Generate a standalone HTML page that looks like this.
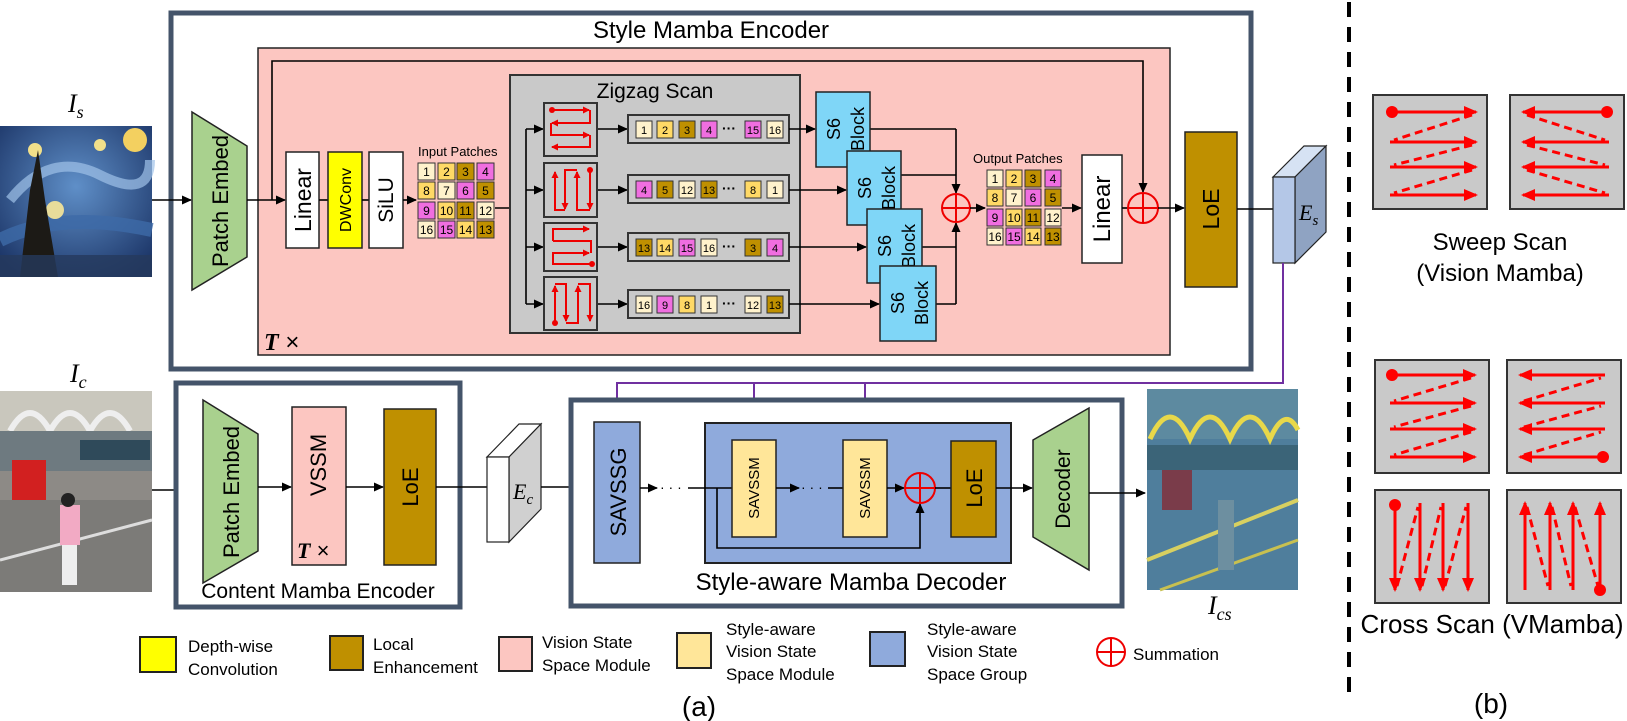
<!DOCTYPE html>
<html><head><meta charset="utf-8"><style>
html,body{margin:0;padding:0;background:#fff;}
svg{display:block;font-family:"Liberation Sans",sans-serif;}
.m{font-family:"Liberation Serif",serif;font-style:italic;}
</style></head><body>
<svg width="1627" height="721" viewBox="0 0 1627 721" xmlns="http://www.w3.org/2000/svg">
<defs>
<marker id="ab" markerUnits="userSpaceOnUse" markerWidth="10" markerHeight="9" refX="9" refY="4.5" orient="auto"><path d="M0,0 L10,4.5 L0,9z" fill="#000"/></marker>
<marker id="ap" markerUnits="userSpaceOnUse" markerWidth="10" markerHeight="9" refX="9" refY="4.5" orient="auto"><path d="M0,0 L10,4.5 L0,9z" fill="#7030a0"/></marker>
<marker id="ar" markerUnits="userSpaceOnUse" markerWidth="7" markerHeight="7" refX="6" refY="3.5" orient="auto"><path d="M0,0 L7,3.5 L0,7z" fill="#e00"/></marker>
<marker id="aR" markerUnits="userSpaceOnUse" markerWidth="14" markerHeight="12" refX="12" refY="6" orient="auto"><path d="M0,0 L14,6 L0,12z" fill="#f00"/></marker>
<radialGradient id="sn" cx="0.5" cy="0.4" r="0.7"><stop offset="0" stop-color="#5f8fc8"/><stop offset="1" stop-color="#1b3466"/></radialGradient>
</defs>
<rect width="1627" height="721" fill="#fff"/>

<!-- ============ Style Mamba Encoder ============ -->
<rect x="171" y="13" width="1080" height="356" fill="#fff" stroke="#44546a" stroke-width="5"/>
<text x="711" y="38" font-size="24" text-anchor="middle">Style Mamba Encoder</text>
<rect x="258" y="48" width="912" height="307" fill="#fcc6c1" stroke="#222" stroke-width="1.5"/>
<text x="264" y="350" font-size="24"><tspan font-family="Liberation Serif" font-weight="bold" font-style="italic">T</tspan> ×</text>

<!-- I_s image -->
<text x="68" y="112" font-size="26" class="m">I<tspan font-size="18" dy="6">s</tspan></text>
<rect x="0" y="126" width="152" height="151" fill="url(#sn)"/>
<path d="M10,200 Q50,150 100,175 T150,160" stroke="#9fc2e8" stroke-width="10" fill="none" opacity="0.7"/>
<path d="M0,240 Q60,210 152,230" stroke="#3d6aa8" stroke-width="14" fill="none" opacity="0.8"/>
<circle cx="135" cy="140" r="12" fill="#f3d060"/><circle cx="35" cy="150" r="7" fill="#f2e08a"/><circle cx="100" cy="145" r="6" fill="#f2e08a"/><circle cx="55" cy="210" r="9" fill="#e8dc9a"/>
<path d="M20,277 L30,190 L38,150 L45,200 L58,277z" fill="#1c1a16"/>
<rect x="0" y="255" width="152" height="22" fill="#253a5c" opacity="0.8"/>
<line x1="152" y1="200" x2="191" y2="200" stroke="#000" stroke-width="1.6" marker-end="url(#ab)"/>

<polygon points="192,112 247,146 247,257 192,290" fill="#a9d18e" stroke="#222" stroke-width="1.5"/>
<text transform="translate(220,201) rotate(-90)" font-size="22" text-anchor="middle" dy="8">Patch Embed</text>
<line x1="247" y1="200" x2="285" y2="200" stroke="#000" stroke-width="1.6" marker-end="url(#ab)"/>
<path d="M272,200 V61 H1143 V192" fill="none" stroke="#000" stroke-width="1.6" marker-end="url(#ab)"/>

<rect x="286" y="152" width="33" height="96" fill="#fff" stroke="#222" stroke-width="1.5"/>
<text transform="translate(303,200) rotate(-90)" font-size="23" text-anchor="middle" dy="8">Linear</text>
<line x1="319" y1="200" x2="328" y2="200" stroke="#000" stroke-width="1.6"/>
<rect x="328" y="152" width="34" height="96" fill="#ffff00" stroke="#222" stroke-width="1.5"/>
<text transform="translate(345,200) rotate(-90)" font-size="16" text-anchor="middle" dy="6">DWConv</text>
<line x1="362" y1="200" x2="369" y2="200" stroke="#000" stroke-width="1.6"/>
<rect x="369" y="152" width="34" height="96" fill="#fff" stroke="#222" stroke-width="1.5"/>
<text transform="translate(386,200) rotate(-90)" font-size="21" text-anchor="middle" dy="7">SiLU</text>
<line x1="403" y1="200" x2="416" y2="200" stroke="#000" stroke-width="1.6" marker-end="url(#ab)"/>

<!-- input patches -->
<text x="418" y="156" font-size="13">Input Patches</text>
<g font-size="12" text-anchor="middle" stroke-width="1">
<rect x="418" y="163" width="17" height="17" fill="#fff2cc" stroke="#333"/><text x="426.5" y="176">1</text>
<rect x="438" y="163" width="17" height="17" fill="#ffd966" stroke="#333"/><text x="446.5" y="176">2</text>
<rect x="457" y="163" width="17" height="17" fill="#bf9000" stroke="#333"/><text x="465.5" y="176">3</text>
<rect x="477" y="163" width="17" height="17" fill="#f06ee0" stroke="#333"/><text x="485.5" y="176">4</text>
<rect x="418" y="182" width="17" height="17" fill="#ffd966" stroke="#333"/><text x="426.5" y="195">8</text>
<rect x="438" y="182" width="17" height="17" fill="#fff2cc" stroke="#333"/><text x="446.5" y="195">7</text>
<rect x="457" y="182" width="17" height="17" fill="#f06ee0" stroke="#333"/><text x="465.5" y="195">6</text>
<rect x="477" y="182" width="17" height="17" fill="#bf9000" stroke="#333"/><text x="485.5" y="195">5</text>
<rect x="418" y="202" width="17" height="17" fill="#f06ee0" stroke="#333"/><text x="426.5" y="215">9</text>
<rect x="438" y="202" width="17" height="17" fill="#ffd966" stroke="#333"/><text x="446.5" y="215">10</text>
<rect x="457" y="202" width="17" height="17" fill="#bf9000" stroke="#333"/><text x="465.5" y="215">11</text>
<rect x="477" y="202" width="17" height="17" fill="#fff2cc" stroke="#333"/><text x="485.5" y="215">12</text>
<rect x="418" y="221" width="17" height="17" fill="#fff2cc" stroke="#333"/><text x="426.5" y="234">16</text>
<rect x="438" y="221" width="17" height="17" fill="#f06ee0" stroke="#333"/><text x="446.5" y="234">15</text>
<rect x="457" y="221" width="17" height="17" fill="#ffd966" stroke="#333"/><text x="465.5" y="234">14</text>
<rect x="477" y="221" width="17" height="17" fill="#bf9000" stroke="#333"/><text x="485.5" y="234">13</text>
</g>
<line x1="495" y1="208" x2="526" y2="208" stroke="#000" stroke-width="1.6"/>

<!-- zigzag scan -->
<rect x="510" y="75" width="290" height="258" fill="#c9c9c9" stroke="#333" stroke-width="2"/>
<text x="655" y="98" font-size="21" text-anchor="middle">Zigzag Scan</text>
<line x1="526" y1="129" x2="526" y2="304" stroke="#000" stroke-width="1.6"/>
<g stroke="#000" stroke-width="1.6" marker-end="url(#ab)">
<line x1="526" y1="129" x2="543" y2="129"/><line x1="526" y1="190" x2="543" y2="190"/>
<line x1="526" y1="247" x2="543" y2="247"/><line x1="526" y1="304" x2="543" y2="304"/>
<line x1="597" y1="129" x2="627" y2="129"/><line x1="597" y1="190" x2="627" y2="190"/>
<line x1="597" y1="247" x2="627" y2="247"/><line x1="597" y1="304" x2="627" y2="304"/>
</g>
<g fill="#c9c9c9" stroke="#333" stroke-width="2">
<rect x="544" y="103" width="53" height="53"/><rect x="544" y="163" width="53" height="54"/>
<rect x="544" y="223" width="53" height="48"/><rect x="544" y="277" width="53" height="53"/>
</g>
<g stroke="#e00" stroke-width="2" fill="none">
<!-- icon1 -->
<path d="M552,110 H589" marker-end="url(#ar)"/><path d="M590,110 V123 H552" marker-end="url(#ar)"/>
<path d="M551,123 V135 H589" marker-end="url(#ar)"/><path d="M590,135 V147 H552" marker-end="url(#ar)"/>
<!-- icon2 -->
<path d="M590,170 V209" marker-end="url(#ar)"/><path d="M590,210 H577 V172" marker-end="url(#ar)"/>
<path d="M577,170 H565 V209" marker-end="url(#ar)"/><path d="M565,210 H555 V172" marker-end="url(#ar)"/>
<!-- icon3 -->
<path d="M592,264 H553 V253 H589" marker-end="url(#ar)"/><path d="M591,253 V241 H553"/>
<path d="M553,241 V229 H589" marker-end="url(#ar)"/>
<!-- icon4 -->
<path d="M555,323 V286" marker-end="url(#ar)"/><path d="M555,284 H566 V321" marker-end="url(#ar)"/>
<path d="M566,323 H578 V286" marker-end="url(#ar)"/><path d="M578,284 H590 V321" marker-end="url(#ar)"/>
</g>
<g fill="#e00"><circle cx="552" cy="110" r="3"/><circle cx="590" cy="170" r="3"/><circle cx="592" cy="264" r="3"/><circle cx="555" cy="323" r="3"/></g>

<!-- sequence boxes -->
<g fill="#c9c9c9" stroke="#333" stroke-width="2">
<rect x="628" y="115" width="161" height="28"/><rect x="628" y="175" width="161" height="28"/>
<rect x="628" y="233" width="161" height="28"/><rect x="628" y="290" width="161" height="28"/>
</g>
<g font-size="11" text-anchor="middle" stroke-width="1">
<rect x="636" y="121" width="16" height="17" fill="#fff2cc" stroke="#333"/><text x="644" y="134">1</text>
<rect x="657" y="121" width="16" height="17" fill="#ffd966" stroke="#333"/><text x="665" y="134">2</text>
<rect x="679" y="121" width="16" height="17" fill="#bf9000" stroke="#333"/><text x="687" y="134">3</text>
<rect x="701" y="121" width="16" height="17" fill="#f06ee0" stroke="#333"/><text x="709" y="134">4</text>
<text x="729" y="133" font-size="14" font-weight="bold">···</text>
<rect x="745" y="121" width="16" height="17" fill="#f06ee0" stroke="#333"/><text x="753" y="134">15</text>
<rect x="767" y="121" width="16" height="17" fill="#fff2cc" stroke="#333"/><text x="775" y="134">16</text>

<rect x="636" y="181" width="16" height="17" fill="#f06ee0" stroke="#333"/><text x="644" y="194">4</text>
<rect x="657" y="181" width="16" height="17" fill="#bf9000" stroke="#333"/><text x="665" y="194">5</text>
<rect x="679" y="181" width="16" height="17" fill="#fff2cc" stroke="#333"/><text x="687" y="194">12</text>
<rect x="701" y="181" width="16" height="17" fill="#bf9000" stroke="#333"/><text x="709" y="194">13</text>
<text x="729" y="193" font-size="14" font-weight="bold">···</text>
<rect x="745" y="181" width="16" height="17" fill="#ffd966" stroke="#333"/><text x="753" y="194">8</text>
<rect x="767" y="181" width="16" height="17" fill="#fff2cc" stroke="#333"/><text x="775" y="194">1</text>

<rect x="636" y="239" width="16" height="17" fill="#bf9000" stroke="#333"/><text x="644" y="252">13</text>
<rect x="657" y="239" width="16" height="17" fill="#ffd966" stroke="#333"/><text x="665" y="252">14</text>
<rect x="679" y="239" width="16" height="17" fill="#f06ee0" stroke="#333"/><text x="687" y="252">15</text>
<rect x="701" y="239" width="16" height="17" fill="#fff2cc" stroke="#333"/><text x="709" y="252">16</text>
<text x="729" y="251" font-size="14" font-weight="bold">···</text>
<rect x="745" y="239" width="16" height="17" fill="#bf9000" stroke="#333"/><text x="753" y="252">3</text>
<rect x="767" y="239" width="16" height="17" fill="#f06ee0" stroke="#333"/><text x="775" y="252">4</text>

<rect x="636" y="296" width="16" height="17" fill="#fff2cc" stroke="#333"/><text x="644" y="309">16</text>
<rect x="657" y="296" width="16" height="17" fill="#f06ee0" stroke="#333"/><text x="665" y="309">9</text>
<rect x="679" y="296" width="16" height="17" fill="#ffd966" stroke="#333"/><text x="687" y="309">8</text>
<rect x="701" y="296" width="16" height="17" fill="#fff2cc" stroke="#333"/><text x="709" y="309">1</text>
<text x="729" y="308" font-size="14" font-weight="bold">···</text>
<rect x="745" y="296" width="16" height="17" fill="#fff2cc" stroke="#333"/><text x="753" y="309">12</text>
<rect x="767" y="296" width="16" height="17" fill="#bf9000" stroke="#333"/><text x="775" y="309">13</text>
</g>

<!-- to S6 -->
<g stroke="#000" stroke-width="1.6" marker-end="url(#ab)">
<line x1="789" y1="129" x2="815" y2="129"/><line x1="789" y1="190" x2="846" y2="190"/>
<line x1="789" y1="247" x2="866" y2="247"/><line x1="789" y1="304" x2="879" y2="304"/>
</g>
<!-- S6 outputs -->
<g stroke="#000" stroke-width="1.6" fill="none">
<line x1="870" y1="129" x2="956" y2="129"/><line x1="901" y1="175" x2="956" y2="175"/>
<line x1="922" y1="247" x2="956" y2="247"/><line x1="936" y1="304" x2="956" y2="304"/>
<line x1="956" y1="129" x2="956" y2="193" marker-end="url(#ab)"/>
<line x1="956" y1="304" x2="956" y2="223" marker-end="url(#ab)"/>
</g>
<g fill="#7fd6f7" stroke="#222" stroke-width="1.5" font-size="18">
<rect x="816" y="92" width="54" height="75"/>
<text stroke="none" fill="#000" transform="translate(834,129) rotate(-90)" text-anchor="middle" dy="6">S6</text>
<text stroke="none" fill="#000" transform="translate(858,129) rotate(-90)" text-anchor="middle" dy="6">Block</text>
<rect x="847" y="151" width="54" height="74"/>
<text stroke="none" fill="#000" transform="translate(865,188) rotate(-90)" text-anchor="middle" dy="6">S6</text>
<text stroke="none" fill="#000" transform="translate(889,188) rotate(-90)" text-anchor="middle" dy="6">Block</text>
<rect x="867" y="209" width="55" height="74"/>
<text stroke="none" fill="#000" transform="translate(885,246) rotate(-90)" text-anchor="middle" dy="6">S6</text>
<text stroke="none" fill="#000" transform="translate(909,246) rotate(-90)" text-anchor="middle" dy="6">Block</text>
<rect x="880" y="266" width="56" height="75"/>
<text stroke="none" fill="#000" transform="translate(898,303) rotate(-90)" text-anchor="middle" dy="6">S6</text>
<text stroke="none" fill="#000" transform="translate(922,303) rotate(-90)" text-anchor="middle" dy="6">Block</text>
</g>

<!-- sum 1 -->
<g stroke="#e00" stroke-width="2" fill="none">
<circle cx="956" cy="208" r="14"/><line x1="942" y1="208" x2="970" y2="208"/><line x1="956" y1="194" x2="956" y2="222"/>
</g>
<line x1="970" y1="208" x2="985" y2="208" stroke="#000" stroke-width="1.6" marker-end="url(#ab)"/>
<text x="973" y="163" font-size="13">Output Patches</text>
<g font-size="12" text-anchor="middle" stroke-width="1">
<rect x="987" y="170" width="16" height="17" fill="#fff2cc" stroke="#333"/><text x="995" y="183">1</text>
<rect x="1006" y="170" width="16" height="17" fill="#ffd966" stroke="#333"/><text x="1014" y="183">2</text>
<rect x="1025" y="170" width="16" height="17" fill="#bf9000" stroke="#333"/><text x="1033" y="183">3</text>
<rect x="1045" y="170" width="16" height="17" fill="#f06ee0" stroke="#333"/><text x="1053" y="183">4</text>
<rect x="987" y="189" width="16" height="17" fill="#ffd966" stroke="#333"/><text x="995" y="202">8</text>
<rect x="1006" y="189" width="16" height="17" fill="#fff2cc" stroke="#333"/><text x="1014" y="202">7</text>
<rect x="1025" y="189" width="16" height="17" fill="#f06ee0" stroke="#333"/><text x="1033" y="202">6</text>
<rect x="1045" y="189" width="16" height="17" fill="#bf9000" stroke="#333"/><text x="1053" y="202">5</text>
<rect x="987" y="209" width="16" height="17" fill="#f06ee0" stroke="#333"/><text x="995" y="222">9</text>
<rect x="1006" y="209" width="16" height="17" fill="#ffd966" stroke="#333"/><text x="1014" y="222">10</text>
<rect x="1025" y="209" width="16" height="17" fill="#bf9000" stroke="#333"/><text x="1033" y="222">11</text>
<rect x="1045" y="209" width="16" height="17" fill="#fff2cc" stroke="#333"/><text x="1053" y="222">12</text>
<rect x="987" y="228" width="16" height="17" fill="#fff2cc" stroke="#333"/><text x="995" y="241">16</text>
<rect x="1006" y="228" width="16" height="17" fill="#f06ee0" stroke="#333"/><text x="1014" y="241">15</text>
<rect x="1025" y="228" width="16" height="17" fill="#ffd966" stroke="#333"/><text x="1033" y="241">14</text>
<rect x="1045" y="228" width="16" height="17" fill="#bf9000" stroke="#333"/><text x="1053" y="241">13</text>
</g>
<line x1="1062" y1="208" x2="1081" y2="208" stroke="#000" stroke-width="1.6" marker-end="url(#ab)"/>
<rect x="1082" y="155" width="40" height="108" fill="#fff" stroke="#222" stroke-width="1.5"/>
<text transform="translate(1102,209) rotate(-90)" font-size="24" text-anchor="middle" dy="8">Linear</text>
<line x1="1122" y1="208" x2="1128" y2="208" stroke="#000" stroke-width="1.6"/>
<g stroke="#e00" stroke-width="2" fill="none">
<circle cx="1143" cy="208" r="15"/><line x1="1128" y1="208" x2="1158" y2="208"/><line x1="1143" y1="193" x2="1143" y2="223"/>
</g>
<line x1="1158" y1="208" x2="1184" y2="208" stroke="#000" stroke-width="1.6" marker-end="url(#ab)"/>
<rect x="1185" y="132" width="52" height="155" fill="#bf9000" stroke="#222" stroke-width="1.5"/>
<text transform="translate(1211,209) rotate(-90)" font-size="23" text-anchor="middle" dy="8">LoE</text>
<line x1="1237" y1="209" x2="1273" y2="209" stroke="#000" stroke-width="1.6"/>

<!-- E_s cube -->
<polygon points="1273,177 1304,146 1326,146 1295,177" fill="#d6e2f3" stroke="#222" stroke-width="1.2"/>
<polygon points="1295,177 1326,146 1326,232 1295,263" fill="#8fa3c2" stroke="#222" stroke-width="1.2"/>
<rect x="1273" y="177" width="22" height="86" fill="#b4c7e7" stroke="#222" stroke-width="1.2"/>
<text x="1299" y="220" font-size="22" class="m">E<tspan font-size="15" dy="5">s</tspan></text>

<!-- purple -->
<g stroke="#7030a0" stroke-width="2" fill="none">
<path d="M1283,263 V383 H617 V419" marker-end="url(#ap)"/>
<path d="M754,383 V439" marker-end="url(#ap)"/>
<path d="M865,383 V439" marker-end="url(#ap)"/>
</g>

<!-- ============ Content encoder ============ -->
<text x="70" y="382" font-size="26" class="m">I<tspan font-size="18" dy="6">c</tspan></text>
<rect x="0" y="391" width="152" height="201" fill="#8d8a86"/>
<rect x="0" y="391" width="152" height="40" fill="#c9c7bd"/>
<path d="M10,431 Q30,395 50,431 Q70,395 90,431 Q110,395 130,431" stroke="#eee" stroke-width="6" fill="none"/>
<rect x="0" y="431" width="152" height="40" fill="#6e7a80"/>
<rect x="80" y="440" width="70" height="20" fill="#2f4a5a"/>
<rect x="12" y="460" width="34" height="45" fill="#d22020"/>
<rect x="0" y="500" width="152" height="92" fill="#7c7b78"/>
<path d="M0,560 L152,520" stroke="#ddd" stroke-width="3"/>
<rect x="60" y="505" width="20" height="40" fill="#f2aac4"/><circle cx="68" cy="500" r="7" fill="#222"/>
<rect x="62" y="545" width="15" height="40" fill="#eee"/>
<line x1="152" y1="490" x2="202" y2="490" stroke="#000" stroke-width="1.6" marker-end="url(#ab)"/>

<rect x="176" y="383" width="284" height="224" fill="#fff" stroke="#44546a" stroke-width="5"/>
<polygon points="203,400 258,434 258,551 203,583" fill="#a9d18e" stroke="#222" stroke-width="1.5"/>
<text transform="translate(231,492) rotate(-90)" font-size="22" text-anchor="middle" dy="8">Patch Embed</text>
<line x1="258" y1="487" x2="291" y2="487" stroke="#000" stroke-width="1.6" marker-end="url(#ab)"/>
<rect x="292" y="407" width="54" height="158" fill="#fcc6c1" stroke="#222" stroke-width="1.5"/>
<text transform="translate(318,465) rotate(-90)" font-size="22" text-anchor="middle" dy="8">VSSM</text>
<text x="297" y="558" font-size="22"><tspan font-family="Liberation Serif" font-weight="bold" font-style="italic">T</tspan> ×</text>
<line x1="346" y1="487" x2="383" y2="487" stroke="#000" stroke-width="1.6" marker-end="url(#ab)"/>
<rect x="384" y="409" width="52" height="156" fill="#bf9000" stroke="#222" stroke-width="1.5"/>
<text transform="translate(410,487) rotate(-90)" font-size="22" text-anchor="middle" dy="8">LoE</text>
<text x="318" y="598" font-size="21" text-anchor="middle">Content Mamba Encoder</text>
<line x1="436" y1="487" x2="487" y2="487" stroke="#000" stroke-width="1.6"/>

<!-- E_c cube -->
<polygon points="487,457 519,424 541,424 509,457" fill="#fff" stroke="#222" stroke-width="1.2"/>
<polygon points="509,457 541,424 541,509 509,542" fill="#d0d0d0" stroke="#222" stroke-width="1.2"/>
<rect x="487" y="457" width="22" height="85" fill="#fff" stroke="#222" stroke-width="1.2"/>
<text x="513" y="499" font-size="22" class="m">E<tspan font-size="15" dy="5">c</tspan></text>
<line x1="541" y1="487" x2="594" y2="487" stroke="#000" stroke-width="1.6"/>

<!-- ============ Decoder ============ -->
<rect x="571" y="400" width="551" height="206" fill="#fff" stroke="#44546a" stroke-width="5"/>
<rect x="594" y="422" width="46" height="141" fill="#8faadc" stroke="#222" stroke-width="1.5"/>
<text transform="translate(618,492) rotate(-90)" font-size="22" text-anchor="middle" dy="8">SAVSSG</text>
<line x1="640" y1="488" x2="657" y2="488" stroke="#000" stroke-width="1.6" marker-end="url(#ab)"/>
<text x="660" y="492" font-size="14">· · ·</text>
<rect x="705" y="423" width="306" height="140" fill="#8faadc" stroke="#222" stroke-width="2"/>
<line x1="688" y1="488" x2="732" y2="488" stroke="#000" stroke-width="1.6"/>
<path d="M717,488 V548 H920 V504" fill="none" stroke="#000" stroke-width="1.6" marker-end="url(#ab)"/>
<rect x="732" y="440" width="44" height="97" fill="#ffe699" stroke="#222" stroke-width="1.5"/>
<text transform="translate(754,488) rotate(-90)" font-size="15" text-anchor="middle" dy="5">SAVSSM</text>
<line x1="776" y1="488" x2="799" y2="488" stroke="#000" stroke-width="1.6" marker-end="url(#ab)"/>
<text x="801" y="492" font-size="14">· · ·</text>
<line x1="828" y1="488" x2="843" y2="488" stroke="#000" stroke-width="1.6"/>
<rect x="843" y="440" width="44" height="97" fill="#ffe699" stroke="#222" stroke-width="1.5"/>
<text transform="translate(865,488) rotate(-90)" font-size="15" text-anchor="middle" dy="5">SAVSSM</text>
<line x1="887" y1="488" x2="904" y2="488" stroke="#000" stroke-width="1.6" marker-end="url(#ab)"/>
<g stroke="#e00" stroke-width="2" fill="none">
<circle cx="920" cy="488" r="15"/><line x1="905" y1="488" x2="935" y2="488"/><line x1="920" y1="473" x2="920" y2="503"/>
</g>
<line x1="935" y1="488" x2="951" y2="488" stroke="#000" stroke-width="1.6"/>
<rect x="951" y="441" width="45" height="96" fill="#bf9000" stroke="#222" stroke-width="1.5"/>
<text transform="translate(974,488) rotate(-90)" font-size="22" text-anchor="middle" dy="8">LoE</text>
<line x1="996" y1="488" x2="1032" y2="488" stroke="#000" stroke-width="1.6" marker-end="url(#ab)"/>
<polygon points="1033,440 1089,408 1089,570 1033,537" fill="#a9d18e" stroke="#222" stroke-width="1.5"/>
<text transform="translate(1063,489) rotate(-90)" font-size="21" text-anchor="middle" dy="7">Decoder</text>
<text x="851" y="590" font-size="24" text-anchor="middle">Style-aware Mamba Decoder</text>
<line x1="1089" y1="493" x2="1145" y2="493" stroke="#000" stroke-width="1.6" marker-end="url(#ab)"/>

<!-- I_cs image -->
<rect x="1147" y="389" width="151" height="201" fill="#4f7e9c"/>
<rect x="1147" y="389" width="151" height="50" fill="#5d8aa0"/>
<path d="M1150,439 Q1170,395 1190,439 Q1210,395 1230,439 Q1250,395 1270,439 Q1285,405 1298,430" stroke="#e8d84a" stroke-width="5" fill="none"/>
<rect x="1147" y="445" width="151" height="25" fill="#3b6478"/>
<rect x="1162" y="470" width="30" height="40" fill="#7a3c4a"/>
<path d="M1147,560 L1298,500" stroke="#d8d060" stroke-width="4"/>
<path d="M1160,590 L1298,540" stroke="#c8c050" stroke-width="3"/>
<rect x="1218" y="500" width="16" height="70" fill="#6d8fa0"/>
<text x="1208" y="614" font-size="26" class="m">I<tspan font-size="18" dy="6">cs</tspan></text>

<!-- ============ Legend ============ -->
<g stroke="#222" stroke-width="2">
<rect x="140" y="637" width="36" height="35" fill="#ffff00"/>
<rect x="330" y="636" width="33" height="34" fill="#bf9000"/>
<rect x="499" y="637" width="33" height="34" fill="#fcc6c1"/>
<rect x="677" y="633" width="34" height="35" fill="#ffe699"/>
<rect x="870" y="632" width="35" height="34" fill="#8faadc"/>
</g>
<g font-size="17">
<text x="188" y="652">Depth-wise</text><text x="188" y="675">Convolution</text>
<text x="373" y="650">Local</text><text x="373" y="673">Enhancement</text>
<text x="542" y="648">Vision State</text><text x="542" y="671">Space Module</text>
<text x="726" y="635">Style-aware</text><text x="726" y="657">Vision State</text><text x="726" y="680">Space Module</text>
<text x="927" y="635">Style-aware</text><text x="927" y="657">Vision State</text><text x="927" y="680">Space Group</text>
<text x="1133" y="660">Summation</text>
</g>
<g stroke="#e00" stroke-width="2" fill="none">
<circle cx="1111" cy="652" r="14"/><line x1="1097" y1="652" x2="1125" y2="652"/><line x1="1111" y1="638" x2="1111" y2="666"/>
</g>
<text x="699" y="716" font-size="28" text-anchor="middle">(a)</text>

<!-- ============ (b) ============ -->
<line x1="1349" y1="2" x2="1349" y2="692" stroke="#000" stroke-width="4" stroke-dasharray="15 10"/>
<g fill="#c9c9c9" stroke="#333" stroke-width="2">
<rect x="1373" y="95" width="114" height="114"/><rect x="1510" y="95" width="114" height="114"/>
<rect x="1375" y="360" width="114" height="113"/><rect x="1507" y="360" width="114" height="113"/>
<rect x="1375" y="490" width="114" height="113"/><rect x="1507" y="490" width="114" height="113"/>
</g>
<g stroke="#f00" stroke-width="3" fill="none">
<!-- sweep 1 -->
<g marker-end="url(#aR)"><line x1="1392" y1="112" x2="1476" y2="112"/><line x1="1390" y1="142" x2="1476" y2="142"/><line x1="1390" y1="167" x2="1476" y2="167"/><line x1="1390" y1="195" x2="1476" y2="195"/></g>
<g stroke-dasharray="8 5"><line x1="1472" y1="115" x2="1394" y2="140"/><line x1="1472" y1="145" x2="1394" y2="165"/><line x1="1472" y1="170" x2="1394" y2="193"/></g>
<!-- sweep 2 -->
<g marker-end="url(#aR)"><line x1="1607" y1="112" x2="1523" y2="112"/><line x1="1609" y1="142" x2="1523" y2="142"/><line x1="1609" y1="167" x2="1523" y2="167"/><line x1="1609" y1="195" x2="1523" y2="195"/></g>
<g stroke-dasharray="8 5"><line x1="1527" y1="115" x2="1605" y2="140"/><line x1="1527" y1="145" x2="1605" y2="165"/><line x1="1527" y1="170" x2="1605" y2="193"/></g>
<!-- cross 1 -->
<g marker-end="url(#aR)"><line x1="1392" y1="375" x2="1475" y2="375"/><line x1="1390" y1="403" x2="1475" y2="403"/><line x1="1390" y1="429" x2="1475" y2="429"/><line x1="1390" y1="457" x2="1475" y2="457"/></g>
<g stroke-dasharray="8 5"><line x1="1471" y1="378" x2="1394" y2="401"/><line x1="1471" y1="406" x2="1394" y2="427"/><line x1="1471" y1="432" x2="1394" y2="455"/></g>
<!-- cross 2 -->
<g marker-end="url(#aR)"><line x1="1605" y1="375" x2="1520" y2="375"/><line x1="1605" y1="403" x2="1520" y2="403"/><line x1="1605" y1="429" x2="1520" y2="429"/><line x1="1603" y1="457" x2="1520" y2="457"/></g>
<g stroke-dasharray="8 5"><line x1="1524" y1="401" x2="1601" y2="378"/><line x1="1524" y1="427" x2="1601" y2="406"/><line x1="1524" y1="455" x2="1601" y2="432"/></g>
<!-- cross 3 -->
<g marker-end="url(#aR)"><line x1="1395" y1="505" x2="1395" y2="590"/><line x1="1420" y1="503" x2="1420" y2="590"/><line x1="1443" y1="503" x2="1443" y2="590"/><line x1="1468" y1="503" x2="1468" y2="590"/></g>
<g stroke-dasharray="8 5"><line x1="1397" y1="586" x2="1418" y2="507"/><line x1="1422" y1="586" x2="1441" y2="507"/><line x1="1445" y1="586" x2="1466" y2="507"/></g>
<!-- cross 4 -->
<g marker-end="url(#aR)"><line x1="1525" y1="590" x2="1525" y2="503"/><line x1="1550" y1="590" x2="1550" y2="503"/><line x1="1573" y1="590" x2="1573" y2="503"/><line x1="1600" y1="590" x2="1600" y2="503"/></g>
<g stroke-dasharray="8 5"><line x1="1527" y1="507" x2="1548" y2="586"/><line x1="1552" y1="507" x2="1571" y2="586"/><line x1="1575" y1="507" x2="1598" y2="586"/></g>
</g>
<g fill="#f00">
<circle cx="1392" cy="112" r="6"/><circle cx="1607" cy="112" r="6"/>
<circle cx="1392" cy="375" r="6"/><circle cx="1603" cy="457" r="6"/>
<circle cx="1395" cy="505" r="6"/><circle cx="1600" cy="590" r="6"/>
</g>
<text x="1500" y="250" font-size="24" text-anchor="middle">Sweep Scan</text>
<text x="1500" y="281" font-size="24" text-anchor="middle">(Vision Mamba)</text>
<text x="1492" y="633" font-size="26" text-anchor="middle">Cross Scan (VMamba)</text>
<text x="1491" y="713" font-size="28" text-anchor="middle">(b)</text>
</svg>
</body></html>
